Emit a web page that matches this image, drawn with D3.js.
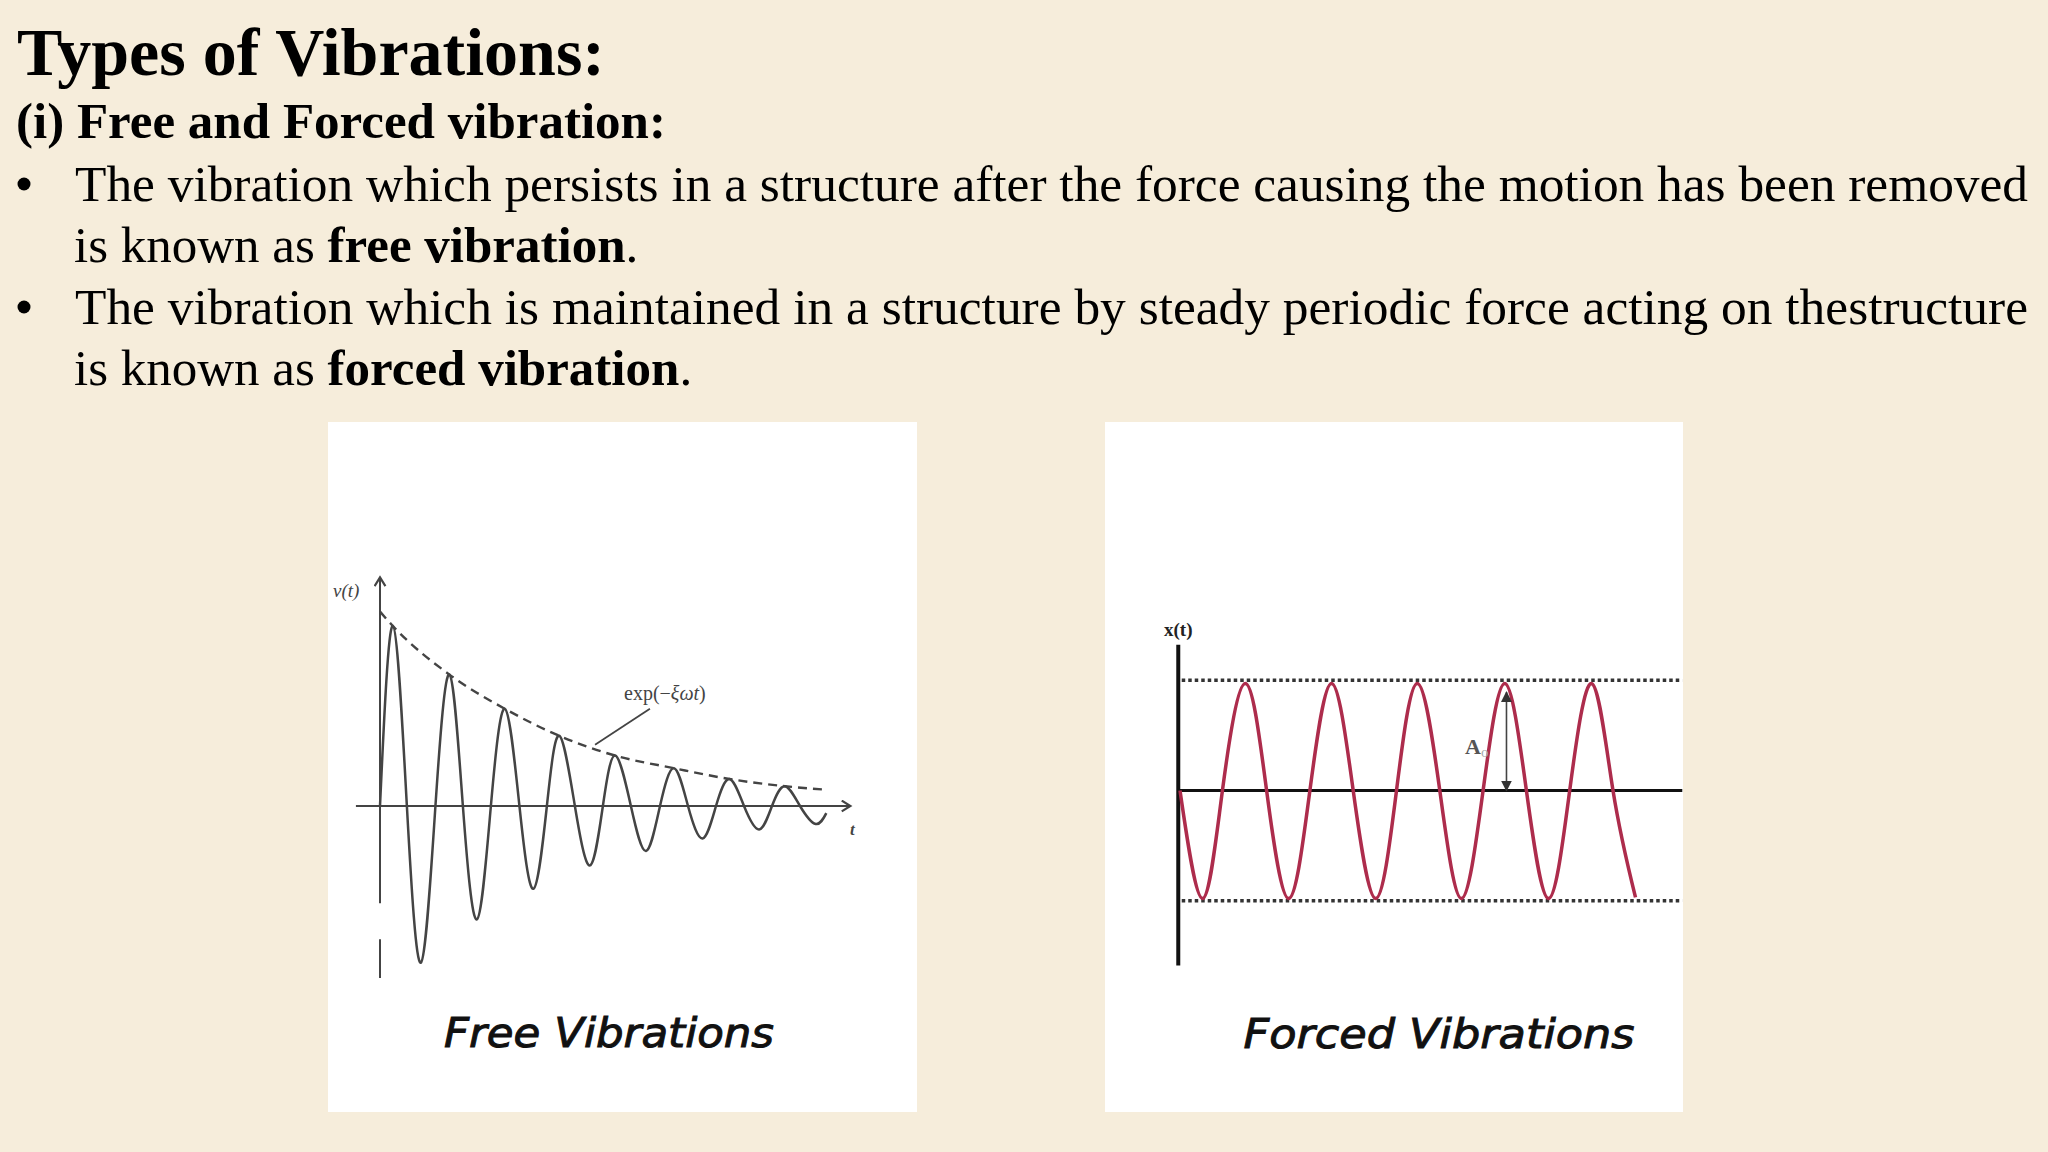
<!DOCTYPE html>
<html>
<head>
<meta charset="utf-8">
<script src="https://cdn.jsdelivr.net/npm/d3@7"></script>
<style>
  body { margin: 0; background: #f6eddb; }
  svg { display: block; }
</style>
</head>
<body>
<div id="slide"></div>
<script>
// free vibration: turning points and zero crossings
// (t in periods, v relative to the first peak)
const freeT = [0, 0.23, 0.48, 0.73, 0.99, 1.24, 1.48, 1.73, 1.98, 2.23, 2.49, 2.74, 2.98, 3.20, 3.48, 3.75,
               3.98, 4.20, 4.48, 4.75, 5.00, 5.25, 5.50, 5.76, 6.00, 6.24, 6.50, 6.77, 7.00, 7.23, 7.50, 7.78, 7.97];
const freeV = [0, 1.00, 0, -0.87, 0, 0.73, 0, -0.63, 0, 0.54, 0, -0.46, 0, 0.39, 0, -0.33,
               0, 0.28, 0, -0.25, 0, 0.21, 0, -0.18, 0, 0.15, 0, -0.13, 0, 0.11, 0, -0.10, -0.04];

// dashed envelope exp(-xi w t)
const envT = [0, 0.23, 1.24, 2.23, 3.20, 4.20, 5.25, 6.24, 7.23, 7.98];
const envV = [1.08, 1.00, 0.73, 0.54, 0.39, 0.28, 0.21, 0.15, 0.11, 0.09];

// forced vibration: turning points and zero crossings (t in periods, x relative to A0)
const forcedT = [0, 0.26, 0.49, 0.755, 1.00, 1.255, 1.50, 1.75, 2.00, 2.26, 2.50, 2.74, 3.00, 3.25, 3.50,
                 3.75, 4.00, 4.255, 4.50, 4.755, 5.00, 5.26];
const forcedV = [0, -1, 0, 0.99, 0, -1, 0, 0.99, 0, -1, 0, 0.99, 0, -1, 0,
                 0.99, 0, -1, 0, 0.99, 0, -0.99];
const ampLevels = [1.02, -1.02];
const ampArrowT = 3.77;
const ampArrowV = [0.91, 0];

const W = 2048, H = 1152;
const svg = d3.select("#slide").append("svg")
    .attr("width", W)
    .attr("height", H);

svg.append("rect").attr("width", W).attr("height", H).attr("fill", "#f6eddb");

// markers
const defs = svg.append("defs");
defs.append("marker")
    .attr("id", "open-arrow")
    .attr("viewBox", "0 0 12 12")
    .attr("refX", 10).attr("refY", 6)
    .attr("markerWidth", 13).attr("markerHeight", 13)
    .attr("markerUnits", "userSpaceOnUse")
    .attr("orient", "auto")
  .append("path")
    .attr("d", "M2,1 L10,6 L2,11")
    .attr("fill", "none")
    .attr("stroke", "#444")
    .attr("stroke-width", 2);
defs.append("marker")
    .attr("id", "tri-arrow")
    .attr("viewBox", "0 0 10 10")
    .attr("refX", 9).attr("refY", 5)
    .attr("markerWidth", 11).attr("markerHeight", 11)
    .attr("markerUnits", "userSpaceOnUse")
    .attr("orient", "auto-start-reverse")
  .append("path")
    .attr("d", "M0,0 L10,5 L0,10 Z")
    .attr("fill", "#333");

// ---- slide text ----
const serif = "'Liberation Serif', 'Times New Roman', serif";

svg.append("text")
    .attr("x", 17).attr("y", 75)
    .attr("font-family", serif).attr("font-weight", "bold").attr("font-size", 68)
    .attr("textLength", 588).attr("lengthAdjust", "spacingAndGlyphs")
    .attr("fill", "#000")
    .text("Types of Vibrations:");

svg.append("text")
    .attr("x", 16).attr("y", 138)
    .attr("font-family", serif).attr("font-weight", "bold").attr("font-size", 51)
    .attr("textLength", 650).attr("lengthAdjust", "spacingAndGlyphs")
    .attr("fill", "#000")
    .text("(i) Free and Forced vibration:");

const bullets = [
  { y: 201, text: "The vibration which persists in a structure after the force causing the motion has been removed" },
  { y: 324, text: "The vibration which is maintained in a structure by steady periodic force acting on thestructure" }
];
const tails = [
  { y: 262, plain: "is known as ", bold: "free vibration" },
  { y: 385, plain: "is known as ", bold: "forced vibration" }
];

bullets.forEach(b => {
  svg.append("circle")
      .attr("cx", 24).attr("cy", b.y - 17).attr("r", 6.5)
      .attr("fill", "#000");
  svg.append("text")
      .attr("x", 75).attr("y", b.y)
      .attr("font-family", serif).attr("font-size", 51)
      .attr("textLength", 1953).attr("lengthAdjust", "spacingAndGlyphs")
      .attr("fill", "#000")
      .text(b.text);
});

tails.forEach(t => {
  const txt = svg.append("text")
      .attr("x", 74).attr("y", t.y)
      .attr("font-family", serif).attr("font-size", 51)
      .attr("fill", "#000");
  txt.append("tspan").text(t.plain);
  txt.append("tspan").attr("font-weight", "bold").text(t.bold);
  txt.append("tspan").text(".");
});

// ---- left panel: free vibrations ----
svg.append("rect")
    .attr("x", 328).attr("y", 422).attr("width", 589).attr("height", 690)
    .attr("fill", "#ffffff");

const xFree = d3.scaleLinear().domain([0, 8]).range([380, 828]);
const yFree = d3.scaleLinear().domain([-1, 1]).range([986, 626]);
const freeInk = "#444";

// axes
svg.append("line")
    .attr("x1", xFree(-0.43)).attr("x2", xFree(8.4))
    .attr("y1", yFree(0)).attr("y2", yFree(0))
    .attr("stroke", freeInk).attr("stroke-width", 2)
    .attr("marker-end", "url(#open-arrow)");
svg.append("line")
    .attr("x1", xFree(0)).attr("x2", xFree(0))
    .attr("y1", yFree(-0.54)).attr("y2", yFree(1.27))
    .attr("stroke", freeInk).attr("stroke-width", 2)
    .attr("marker-end", "url(#open-arrow)");
svg.append("line")
    .attr("x1", xFree(0)).attr("x2", xFree(0))
    .attr("y1", yFree(-0.74)).attr("y2", yFree(-0.955))
    .attr("stroke", freeInk).attr("stroke-width", 2);

// envelope
const envLine = d3.line()
    .x((d, i) => xFree(envT[i]))
    .y(d => yFree(d))
    .curve(d3.curveMonotoneX);
svg.append("path")
    .attr("d", envLine(envV))
    .attr("fill", "none")
    .attr("stroke", freeInk).attr("stroke-width", 2.4)
    .attr("stroke-dasharray", "9,6");

// response
const freeLine = d3.line()
    .x((d, i) => xFree(freeT[i]))
    .y(d => yFree(d))
    .curve(d3.curveNatural);
svg.append("path")
    .attr("d", freeLine(freeV))
    .attr("fill", "none")
    .attr("stroke", freeInk).attr("stroke-width", 2.5);

// labels
svg.append("text")
    .attr("x", 333).attr("y", 597)
    .attr("font-family", serif).attr("font-style", "italic").attr("font-size", 19)
    .attr("fill", freeInk)
    .text("v(t)");
svg.append("text")
    .attr("x", 850).attr("y", 835)
    .attr("font-family", serif).attr("font-style", "italic").attr("font-weight", "bold").attr("font-size", 17)
    .attr("fill", freeInk)
    .text("t");

const expLabel = svg.append("text")
    .attr("x", 624).attr("y", 700)
    .attr("font-family", serif).attr("font-size", 20)
    .attr("fill", freeInk);
expLabel.append("tspan").text("exp(\u2212");
expLabel.append("tspan").attr("font-style", "italic").text("\u03BE\u03C9t");
expLabel.append("tspan").text(")");

svg.append("line")
    .attr("x1", xFree(3.84)).attr("y1", yFree(0.34))
    .attr("x2", xFree(4.82)).attr("y2", yFree(0.54))
    .attr("stroke", freeInk).attr("stroke-width", 1.8);

svg.append("text")
    .attr("x", 609).attr("y", 1047)
    .attr("text-anchor", "middle")
    .attr("font-family", "'DejaVu Sans', sans-serif").attr("font-style", "italic").attr("font-size", 40)
    .attr("textLength", 330).attr("lengthAdjust", "spacingAndGlyphs")
    .attr("fill", "#111").attr("stroke", "#111").attr("stroke-width", 1)
    .text("Free Vibrations");

// ---- right panel: forced vibrations ----
svg.append("rect")
    .attr("x", 1105).attr("y", 422).attr("width", 578).attr("height", 690)
    .attr("fill", "#ffffff");

const xForced = d3.scaleLinear().domain([0, 5]).range([1180, 1613]);
const yForced = d3.scaleLinear().domain([-1, 1]).range([898.5, 682.5]);

// dotted amplitude bounds
svg.selectAll(".amp-bound")
    .data(ampLevels)
    .enter()
    .append("line")
    .attr("class", "amp-bound")
    .attr("x1", xForced(0.02)).attr("x2", xForced(5.8))
    .attr("y1", d => yForced(d)).attr("y2", d => yForced(d))
    .attr("stroke", "#333").attr("stroke-width", 3.5)
    .attr("stroke-dasharray", "3.5,3");

// axes
svg.append("line")
    .attr("x1", xForced(-0.02)).attr("x2", xForced(5.8))
    .attr("y1", yForced(0)).attr("y2", yForced(0))
    .attr("stroke", "#111").attr("stroke-width", 3);
svg.append("line")
    .attr("x1", xForced(-0.02)).attr("x2", xForced(-0.02))
    .attr("y1", yForced(1.35)).attr("y2", yForced(-1.62))
    .attr("stroke", "#111").attr("stroke-width", 4);

// response
const forcedLine = d3.line()
    .x((d, i) => xForced(forcedT[i]))
    .y(d => yForced(d))
    .curve(d3.curveNatural);
svg.append("path")
    .attr("d", forcedLine(forcedV))
    .attr("fill", "none")
    .attr("stroke", "#ad2c4c").attr("stroke-width", 3.5);

// amplitude arrow
svg.append("line")
    .attr("x1", xForced(ampArrowT)).attr("x2", xForced(ampArrowT))
    .attr("y1", yForced(ampArrowV[1])).attr("y2", yForced(ampArrowV[0]))
    .attr("stroke", "#444").attr("stroke-width", 1.6)
    .attr("marker-start", "url(#tri-arrow)")
    .attr("marker-end", "url(#tri-arrow)");

const ampLabel = svg.append("text")
    .attr("x", 1465).attr("y", 754)
    .attr("font-family", serif).attr("font-weight", "bold").attr("font-size", 22)
    .attr("fill", "#555");
ampLabel.append("tspan").text("A");
ampLabel.append("tspan").attr("dy", 3).attr("font-size", 15).attr("font-weight", "normal")
    .attr("fill", "#aaa").text("o");

svg.append("text")
    .attr("x", 1164).attr("y", 636)
    .attr("font-family", serif).attr("font-weight", "bold").attr("font-size", 19)
    .attr("fill", "#222")
    .text("x(t)");

svg.append("text")
    .attr("x", 1439).attr("y", 1048)
    .attr("text-anchor", "middle")
    .attr("font-family", "'DejaVu Sans', sans-serif").attr("font-style", "italic").attr("font-size", 40)
    .attr("textLength", 391).attr("lengthAdjust", "spacingAndGlyphs")
    .attr("fill", "#111").attr("stroke", "#111").attr("stroke-width", 1)
    .text("Forced Vibrations");
</script>
</body>
</html>
